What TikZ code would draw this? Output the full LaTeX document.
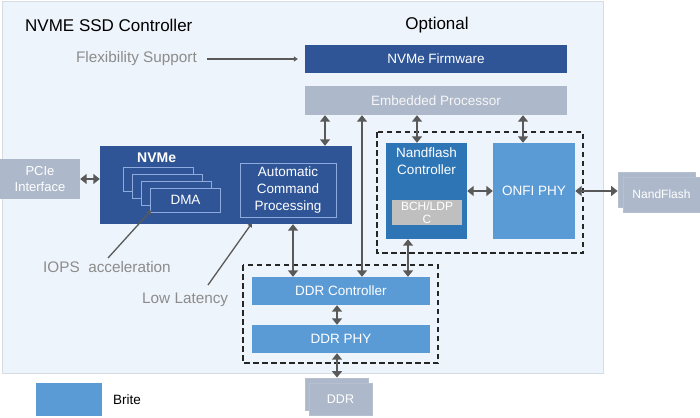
\documentclass[tikz,border=0pt]{standalone}
\usepackage{fontspec}
\setmainfont{Liberation Sans}
\usetikzlibrary{arrows.meta}
\definecolor{panelc}{HTML}{EEF4FB}
\definecolor{panelb}{HTML}{D6DCE4}
\definecolor{darkb}{HTML}{2F5597}
\definecolor{midb}{HTML}{2E75B6}
\definecolor{brite}{HTML}{5B9BD5}
\definecolor{grayb}{HTML}{ADB9CA}
\definecolor{grayb2}{HTML}{8497B0}
\definecolor{bchc}{HTML}{BFBFBF}
\definecolor{arrowc}{HTML}{595959}
\definecolor{labc}{HTML}{8C8C8C}
\definecolor{lineb}{HTML}{8FAADC}
\begin{document}
\begin{tikzpicture}[x=1pt,y=-1pt,
  box/.style={rectangle, inner sep=0pt, align=center, text=white, font=\fontsize{13.5}{17}\selectfont},
  dbl/.style={{Triangle[width=10pt,length=6.5pt]}-{Triangle[width=10pt,length=6.5pt]}, line width=2.6pt, draw=arrowc},
  sgl/.style={-{Triangle[width=10pt,length=6.5pt]}, line width=2.6pt, draw=arrowc},
  thin/.style={-{Triangle[width=5pt,length=4pt]}, line width=1.3pt, draw=arrowc},
  dashbox/.style={draw=black!85, line width=1.6pt, dash pattern=on 5.5pt off 3.5pt},
  lab/.style={text=labc, font=\fontsize{15.3}{18}\selectfont, inner sep=0pt},
  title/.style={text=black, font=\fontsize{17}{20}\selectfont, inner sep=0pt}
]
\useasboundingbox (0,0) rectangle (700,417);
% panel
\fill[panelc] (2,2) rectangle (603,373);
\draw[panelb, line width=1pt] (2,2) rectangle (603,373);

\node[title, anchor=west] (ttl) at (25,25) {NVME SSD Controller};
\node[title] (opt) at (437,25) {Optional};

% top boxes
\node[box, fill=darkb, minimum width=262pt, minimum height=28pt] (fw) at (436,59) {NVMe Firmware};
\node[box, fill=grayb, text=white!93!gray, minimum width=262pt, minimum height=29pt] (ep) at (436,100.5) {Embedded Processor};

\node[lab, anchor=east] (flex) at (197,59) {Flexibility Support};
\draw[thin, line width=1.2pt] ([xshift=10pt]flex.east) -- ([xshift=-7pt]fw.west);

% PCIe
\node[box, fill=grayb, minimum width=80pt, minimum height=40pt, font=\fontsize{13}{16.5}\selectfont] (pcie) at (40,179) {PCIe\\Interface};

% NVMe big box
\node[box, fill=darkb, minimum width=252pt, minimum height=78pt] (nvme) at (226,185) {};
\node[box, anchor=west, font=\bfseries\fontsize{14}{16}\selectfont] (nvt) at (137,158) {NVMe};
\foreach \i/\cx/\cy in {4/158.5/179, 3/167.5/186, 2/176.5/193} {
  \node[box, fill=darkb, draw=lineb, line width=1pt, minimum width=70pt, minimum height=24pt] (dma\i) at (\cx,\cy) {};
}
\node[box, fill=darkb, draw=lineb, line width=1pt, minimum width=70pt, minimum height=24pt, font=\fontsize{13.5}{16}\selectfont] (dma1) at (185.5,200) {DMA};
\node[box, draw=lineb, line width=1pt, minimum width=96pt, minimum height=54pt] (acp) at (288,190) {Automatic\\Command\\Processing};

\draw[dbl] (pcie.east) -- (pcie.east -| nvme.west);

% labels with pointers
\node[lab, anchor=west] (iops) at (43,267) {IOPS\ \ acceleration};
\coordinate (iopsp) at (108,258);
\draw[thin] (iopsp) -- ([shift={(1pt,2pt)}]dma1.south west);
\node[lab, anchor=west] (lowl) at (142,300) {Low Latency};
\coordinate (lowp) at (208,285);
\coordinate (lowt) at (252,223);
\draw[thin] (lowp) -- (lowt);

% nand dashed group
\draw[dashbox] (377,132) rectangle (583,253);
\node[box, fill=midb, minimum width=81pt, minimum height=96pt] (nfc) at (426.5,191) {};
\node[box, anchor=north] (nfct) at (426.5,148) {Nandflash\\Controller};
\node[box, fill=bchc, minimum width=70pt, minimum height=25pt, font=\fontsize{12}{13}\selectfont] (bch) at (427,212.5) {BCH/LDP\\C};
\node[box, fill=brite, minimum width=82pt, minimum height=96pt] (onfi) at (534,191) {ONFI PHY};
\draw[dbl] (nfc.east) -- (onfi.west);

% NandFlash stack
\node[box, fill=grayb, draw=grayb2!60, line width=0.8pt, minimum width=77pt, minimum height=35pt] (nfb) at (656.5,189.5) {};
\node[box, fill=grayb, draw=grayb2!60, line width=0.8pt, minimum width=77pt, minimum height=35pt, font=\fontsize{12}{14}\selectfont] (nff) at (661.5,194.5) {NandFlash};
\draw[dbl] (onfi.east) -- (onfi.east -| nfb.west);

% DDR dashed group
\draw[dashbox] (243,265) rectangle (438,363);
\node[box, fill=brite, minimum width=178pt, minimum height=28pt] (ddrc) at (341,291) {DDR Controller};
\node[box, fill=brite, minimum width=178pt, minimum height=28pt] (ddrp) at (341,339) {DDR PHY};
\coordinate (x337) at (337,0);
\draw[dbl] (ddrc.south -| x337) -- (ddrp.north -| x337);

% DDR memory stack
\node[box, fill=grayb, draw=grayb2!60, line width=0.8pt, minimum width=63pt, minimum height=32pt] (ddrb) at (336.5,394) {};
\node[box, fill=grayb, draw=grayb2!60, line width=0.8pt, minimum width=63pt, minimum height=32pt, font=\fontsize{12.5}{14}\selectfont] (ddrm) at (340.5,399) {DDR};
\draw[dbl] (ddrp.south -| x337) -- (ddrb.north -| x337);

% vertical connectors
\coordinate (x325) at (325,0);
\coordinate (x362) at (362,0);
\coordinate (x417) at (417,0);
\coordinate (x523) at (523,0);
\coordinate (x293) at (293,0);
\coordinate (x408) at (408,0);
\draw[dbl] (ep.south -| x325) -- (nvme.north -| x325);
\draw[dbl] (ep.south -| x362) -- (ddrc.north -| x362);
\draw[dbl] (ep.south -| x417) -- (nfc.north -| x417);
\draw[dbl] (ep.south -| x523) -- (onfi.north -| x523);
\draw[dbl] (nvme.south -| x293) -- (ddrc.north -| x293);
\draw[dbl] (nfc.south -| x408) -- (ddrc.north -| x408);

% legend
\node[box, fill=brite, minimum width=66pt, minimum height=33pt] (leg) at (69,399.5) {};
\node[anchor=west, inner sep=0pt, font=\fontsize{13.5}{16}\selectfont] (legt) at (113,400) {Brite};
\end{tikzpicture}
\end{document}
